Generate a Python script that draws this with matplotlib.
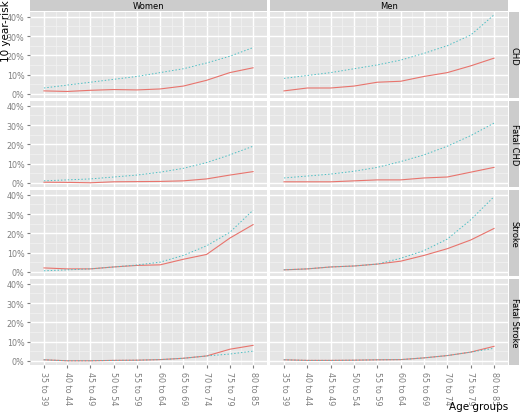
import numpy as np
import matplotlib.pyplot as plt
from matplotlib.ticker import MultipleLocator, FuncFormatter

ages = ["35 to 39", "40 to 44", "45 to 49", "50 to 54", "55 to 59",
        "60 to 64", "65 to 69", "70 to 74", "75 to 79", "80 to 85"]
outcomes = ["CHD", "Fatal CHD", "Stroke", "Fatal Stroke"]
sexes = ["Women", "Men"]

# (red solid, teal dashed) per outcome and sex, in %
women_chd = ([1.5, 1.2, 1.8, 2.2, 2.0, 2.5, 4, 7, 11, 13.5],
             [3, 4.5, 6, 7.5, 9, 11, 13, 16, 19.5, 24])
men_chd = ([1.5, 3, 3, 4, 6, 6.5, 9, 11, 14.5, 18.5],
           [8, 9.5, 11, 13, 15, 17.5, 21, 25, 30.5, 41])
women_fchd = ([0.3, 0.2, 0, 0.5, 0.6, 0.7, 1, 2, 4, 5.8],
              [1, 1.5, 2, 3, 4, 5.5, 7.5, 10.5, 14.5, 19])
men_fchd = ([0.5, 0.5, 0.5, 1, 1.5, 1.5, 2.5, 3, 5.5, 8],
            [2.5, 3.5, 4.5, 6, 8, 11, 14.5, 19, 24.5, 31])
women_stroke = ([2, 1.5, 1.5, 2.5, 3.3, 3.6, 6.5, 9, 17.5, 24.5],
                [0.5, 1, 1.5, 2.5, 3.5, 5, 8.5, 13.5, 20.5, 32])
men_stroke = ([1, 1.5, 2.5, 3, 4, 5.5, 8.5, 12, 16.5, 22.5],
              [1, 1.5, 2.5, 3, 4, 7, 11, 17, 27, 39])
women_fstroke = ([0.5, 0, 0, 0.2, 0.3, 0.6, 1.3, 2.5, 6, 8],
                 [0.5, 0, 0, 0.2, 0.3, 0.6, 1.3, 2.5, 3.5, 5])
men_fstroke = ([0.5, 0.2, 0.2, 0.3, 0.5, 0.6, 1.5, 2.7, 4.5, 7.5],
               [0.5, 0.2, 0.2, 0.3, 0.5, 0.6, 1.5, 2.7, 4.5, 6.5])

data = [[women_chd, men_chd], [women_fchd, men_fchd],
        [women_stroke, men_stroke], [women_fstroke, men_fstroke]]

W, H = 520, 414
fig = plt.figure(figsize=(W / 100, H / 100), dpi=100)
cols = [(30, 267), (270, 508)]
rows = [(13, 99), (102, 188), (191, 277), (280, 366)]
bg = "#E5E5E5"
strip = "#CCCCCC"
x = np.arange(1, 11)

def px(l, t, r, b):
    return [l / W, 1 - b / H, (r - l) / W, (b - t) / H]

for i, (t, b) in enumerate(rows):
    for j, (l, r) in enumerate(cols):
        ax = fig.add_axes(px(l, t, r, b))
        ax.set_facecolor(bg)
        red, teal = data[i][j]
        ax.plot(x, red, color="#E8746D", lw=0.8)
        ax.plot(x, teal, color="#4DBFC4", lw=0.7, ls=(0, (1.5, 2)))
        ax.set_xlim(0.4, 10.6)
        ax.set_ylim(-2.2, 42.5)
        ax.yaxis.set_major_locator(MultipleLocator(10))
        ax.yaxis.set_minor_locator(MultipleLocator(5))
        ax.set_xticks(x)
        ax.set_xticks(x[:-1] + 0.5, minor=True)
        ax.grid(which="major", color="white", lw=1.0)
        ax.grid(which="minor", color="#F2F2F2", lw=0.5)
        ax.set_axisbelow(True)
        for s in ax.spines.values():
            s.set_visible(False)
        ax.tick_params(which="both", length=0)
        ax.tick_params(which="major", length=2.5, color="#7F7F7F", labelsize=5.8,
                       labelcolor="#7F7F7F", pad=1.5)
        ax.tick_params(axis="x", which="minor", length=0)
        ax.tick_params(axis="y", which="minor", length=0)
        if j == 0:
            ax.yaxis.set_major_formatter(FuncFormatter(lambda v, p: f"{v:.0f}%"))
        else:
            ax.tick_params(axis="y", labelleft=False, length=0)
        if i == 3:
            ax.set_xticklabels(ages, rotation=-90)
        else:
            ax.tick_params(axis="x", labelbottom=False, length=0)

        if i == 0:
            sa = fig.add_axes(px(l, 1, r, 12))
            sa.set_facecolor(strip)
            sa.set_xticks([]); sa.set_yticks([])
            for s in sa.spines.values():
                s.set_visible(False)
            sa.text(0.5, 0.5, sexes[j], ha="center", va="center", fontsize=6)
    sa = fig.add_axes(px(509, t, 519, b))
    sa.set_facecolor(strip)
    sa.set_xticks([]); sa.set_yticks([])
    for s in sa.spines.values():
        s.set_visible(False)
    sa.text(0.5, 0.5, outcomes[i], ha="center", va="center", rotation=-90,
            fontsize=6)

fig.text(6 / W, 1 - 31 / H, "10 year-risk", rotation=90, ha="center", va="center",
         fontsize=7.5)
fig.text(508 / W, 1 - 407 / H, "Age groups", ha="right", va="center", fontsize=7.5)

fig.savefig("out.png", dpi=100)
